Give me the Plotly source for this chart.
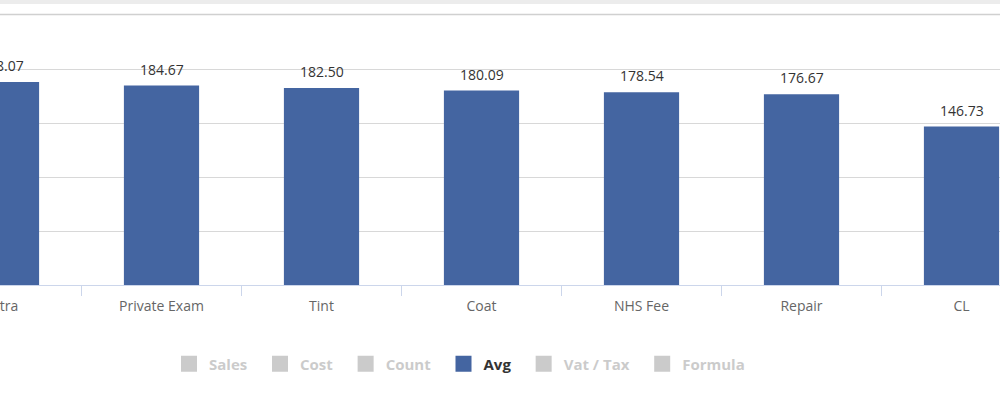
import plotly.graph_objects as go

categories = ["Extra", "Private Exam", "Tint", "Coat", "NHS Fee", "Repair", "CL"]
avg_values = [188.07, 184.67, 182.50, 180.09, 178.54, 176.67, 146.73]
value_labels = ["188.07", "184.67", "182.50", "180.09", "178.54", "176.67", "146.73"]
legend_series = ["Sales", "Cost", "Count", "Avg", "Vat / Tax", "Formula"]
active_series = "Avg"

BAR_COLOR = "#4465a1"
HIDDEN_COLOR = "#999999"
FONT = "Open Sans"
PAD = "&nbsp;&nbsp;"

fig = go.Figure()

fig.add_trace(go.Bar(
    x=categories, y=avg_values, width=0.47,
    marker=dict(color=BAR_COLOR, line=dict(width=0)),
    showlegend=False, name=active_series,
))

for name in legend_series:
    if name == active_series:
        fig.add_trace(go.Scatter(
            x=[None], y=[None], mode="markers", name="<b>%s</b>%s" % (name, PAD),
            marker=dict(symbol="square", size=16, color=BAR_COLOR),
        ))
    else:
        fig.add_trace(go.Scatter(
            x=[None], y=[None], mode="markers",
            name="<b><span style='color:%s'>%s</span></b>%s" % (HIDDEN_COLOR, name, PAD),
            marker=dict(symbol="square", size=16, color=HIDDEN_COLOR),
            visible="legendonly",
        ))

for c, v, t in zip(categories, avg_values, value_labels):
    fig.add_annotation(
        x=c, y=v, text=t, showarrow=False, yanchor="bottom", yshift=5,
        font=dict(family=FONT, size=14, color="#333333"),
    )

fig.update_layout(
    width=1000, height=399,
    margin=dict(l=0, r=0, t=15, b=114),
    paper_bgcolor="white", plot_bgcolor="white",
    font=dict(family=FONT, color="#666666"),
    xaxis=dict(
        type="category", range=[-0.009375, 6.240625], automargin=False,
        tickson="boundaries", ticks="outside", ticklen=10, tickcolor="#ccd6eb",
        showline=True, linecolor="#ccd6eb", showgrid=False,
        tickfont=dict(family=FONT, size=14, color="#666666"),
        ticklabelstandoff=8,
        fixedrange=True,
    ),
    yaxis=dict(
        range=[0, 250], dtick=50, showgrid=True, gridcolor="#d8d8d8",
        showticklabels=False, zeroline=False, fixedrange=True, automargin=False,
    ),
    legend=dict(
        orientation="h", x=0.169, xanchor="left", y=-0.2926, yanchor="middle",
        font=dict(family=FONT, size=15, color="#333333"),
        bgcolor="rgba(0,0,0,0)", itemclick=False, itemdoubleclick=False,
    ),
    shapes=[
        dict(
            type="rect", xref="paper", yref="paper", x0=-0.01, x1=1.01,
            y0=1 + 11 / 270, y1=1 + 15 / 270, fillcolor="#ececec", line=dict(width=0),
            layer="below",
        ),
        dict(
            type="line", xref="paper", yref="paper", x0=-0.01, x1=1.01,
            y0=1 + 0.5 / 270, y1=1 + 0.5 / 270, line=dict(color="#d0d0d0", width=1.5),
            layer="below",
        ),
    ],
)

fig.write_html(
    "out.html",
    config={"displayModeBar": False},
    post_script="document.body.style.margin='0';",
)
